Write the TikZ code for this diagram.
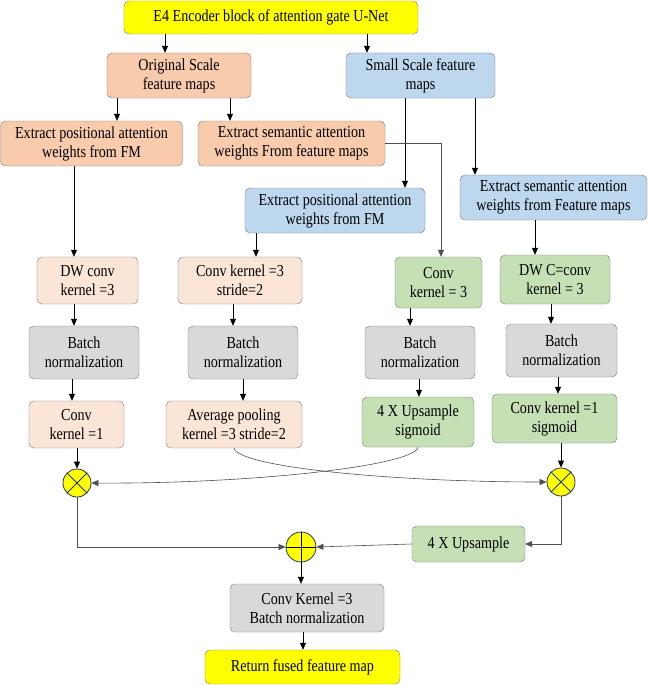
\documentclass[tikz,border=0pt]{standalone}
\usepackage{fontspec}
\setmainfont{Liberation Serif}[FakeStretch=0.84]
\usepackage{xcolor}
\usepackage{tikz}
\usetikzlibrary{arrows.meta}
\definecolor{gateyellow}{HTML}{FFFF00}
\definecolor{origfill}{HTML}{F8CBAD}
\definecolor{peach}{HTML}{FBE5D6}
\definecolor{smallfill}{HTML}{BDD7EE}
\definecolor{leaf}{HTML}{C5E0B4}
\definecolor{bngray}{HTML}{D9D9D9}
\definecolor{edge}{HTML}{7A7A7A}
\definecolor{wirecol}{HTML}{505050}
\definecolor{opedge}{HTML}{1F3864}

\begin{document}
\begin{tikzpicture}[x=1pt, y=-1pt,
    blk/.style={draw=edge, rounded corners=5pt, align=center, inner sep=0pt,
      font=\fontsize{16.8}{19}\selectfont},
    arr/.style={-{Triangle[length=7pt,width=6pt]}, line width=0.8pt, black},
    wire/.style={-{Triangle[length=7pt,width=6pt]}, line width=0.6pt, wirecol},
    op/.style={circle, draw=opedge, fill=gateyellow, minimum size=28pt,
      inner sep=0pt, line width=0.8pt}]
  \useasboundingbox (0,0) rectangle (648,685);

  % Input block and the two scales
  \node[blk, fill=gateyellow, minimum width=294pt, minimum height=33pt] (enc) at (271,17.5) {E4 Encoder block of attention gate U-Net};
  \node[blk, fill=origfill, minimum width=144pt, minimum height=45pt] (orig) at (179,75.5) {Original Scale\\feature maps};
  \node[blk, fill=smallfill, minimum width=149pt, minimum height=45pt] (small) at (420.5,75.5) {Small Scale feature\\maps};

  % Attention weight extraction
  \node[blk, fill=origfill, minimum width=182pt, minimum height=45pt] (posA) at (91.5,143.5) {Extract positional attention\\weights from FM};
  \node[blk, fill=origfill, minimum width=187pt, minimum height=45pt] (semA) at (291.5,143.5) {Extract semantic attention\\weights From feature maps};
  \node[blk, fill=smallfill, minimum width=180pt, minimum height=45pt] (posB) at (335,210.5) {Extract positional attention\\weights from FM};
  \node[blk, fill=smallfill, minimum width=187pt, minimum height=45pt] (semB) at (553.5,197.5) {Extract semantic attention\\weights from Feature maps};

  % First convolution row
  \node[blk, fill=peach, minimum width=101pt, minimum height=47pt] (dw) at (87.5,280.5) {DW conv\\kernel =3};
  \node[blk, fill=peach, minimum width=124pt, minimum height=47pt] (cstr) at (240,280.5) {Conv kernel =3\\stride=2};
  \node[blk, fill=leaf, minimum width=87pt, minimum height=51pt] (convG) at (438.5,282.5) {Conv\\kernel = 3};
  \node[blk, fill=leaf, minimum width=110pt, minimum height=49pt] (dwc) at (555,279.5) {DW C=conv\\kernel = 3};

  % Batch normalization row
  \node[blk, fill=bngray, minimum width=110pt, minimum height=53pt] (bn1) at (84,352.5) {Batch\\normalization};
  \node[blk, fill=bngray, minimum width=110pt, minimum height=53pt] (bn2) at (243,352.5) {Batch\\normalization};
  \node[blk, fill=bngray, minimum width=110pt, minimum height=53pt] (bn3) at (420,352.5) {Batch\\normalization};
  \node[blk, fill=bngray, minimum width=111pt, minimum height=53pt] (bn4) at (561.5,350.5) {Batch\\normalization};

  % Output row of each branch
  \node[blk, fill=peach, minimum width=95pt, minimum height=47pt] (conv1) at (76.5,424.5) {Conv\\kernel =1};
  \node[blk, fill=peach, minimum width=136pt, minimum height=47pt] (avg) at (234,424.5) {Average pooling\\kernel =3 stride=2};
  \node[blk, fill=leaf, minimum width=112pt, minimum height=50pt] (ups) at (418,422) {4 X Upsample\\sigmoid};
  \node[blk, fill=leaf, minimum width=125pt, minimum height=49pt] (convs) at (554.5,418.5) {Conv kernel =1\\sigmoid};

  % Fusion
  \node[op] (otL) at (77,483) {};
  \node[op] (otR) at (561,482) {};
  \node[op, minimum size=30pt] (plus) at (301,547) {};
  \draw[opedge, line width=0.8pt] (otL.north west) -- (otL.south east) (otL.north east) -- (otL.south west);
  \draw[opedge, line width=0.8pt] (otR.north west) -- (otR.south east) (otR.north east) -- (otR.south west);
  \draw[black, line width=0.8pt] (plus.north) -- (plus.south) (plus.west) -- (plus.east);
  \node[blk, fill=leaf, minimum width=113pt, minimum height=36pt] (ups4) at (468.5,544) {4 X Upsample};
  \node[blk, fill=bngray, minimum width=154pt, minimum height=48pt] (fconv) at (307,608) {Conv Kernel =3\\Batch normalization};
  \node[blk, fill=gateyellow, minimum width=195pt, minimum height=34pt] (ret) at (302.5,667) {Return fused feature map};

  % Arrows, top part
  \draw[arr] (enc.south -| 165,0) -- (orig.north -| 165,0);
  \draw[arr] (enc.south -| 367,0) -- (small.north -| 367,0);
  \draw[arr] (orig.south -| 117,0) -- (posA.north -| 117,0);
  \draw[arr] (orig.south -| 230,0) -- (semA.north -| 230,0);
  \draw[arr] (small.south -| 405,0) -- (posB.north -| 405,0);
  \draw[arr] (small.south -| 475,0) -- (semB.north -| 475,0);
  \draw[wire] (semA.east) -| (convG.north -| 441,0);
  \draw[arr] (posA.south -| 74,0) -- (dw.north -| 74,0);
  \draw[arr] (posB.south -| 256,0) -- (cstr.north -| 256,0);
  \draw[arr] (semB.south -| 535,0) -- (dwc.north -| 535,0);

  % Arrows down each branch
  \draw[arr] (dw.south -| 74,0) -- (bn1.north -| 74,0);
  \draw[arr] (cstr.south -| 233,0) -- (bn2.north -| 233,0);
  \draw[arr] (convG.south -| 410,0) -- (bn3.north -| 410,0);
  \draw[arr] (dwc.south -| 551,0) -- (bn4.north -| 551,0);
  \draw[arr] (bn1.south -| 72,0) -- (conv1.north -| 72,0);
  \draw[arr] (bn2.south -| 243,0) -- (avg.north -| 243,0);
  \draw[arr] (bn3.south -| 419,0) -- (ups.north -| 419,0);
  \draw[arr] (bn4.south -| 558,0) -- (convs.north -| 558,0);
  \draw[arr] (conv1.south -| otL.north) -- (otL.north);
  \draw[arr] (convs.south -| otR.north) -- (otR.north);

  % Crossing curves
  \draw[wire] (avg.south) .. controls (240,468) and (400,482) .. (otR.west);
  \draw[wire] (ups.south) .. controls (414,466) and (250,484) .. (otL.east);

  % Bottom merge
  \draw[wire] (otL.south) |- (plus.west);
  \draw[wire] (otR.south) |- (ups4.east);
  \draw[wire] (ups4.west) -- (plus.east);
  \draw[arr] (plus.south) -- (plus.south |- fconv.north);
  \draw[arr] (fconv.south -| 303,0) -- (ret.north -| 303,0);
\end{tikzpicture}
\end{document}
